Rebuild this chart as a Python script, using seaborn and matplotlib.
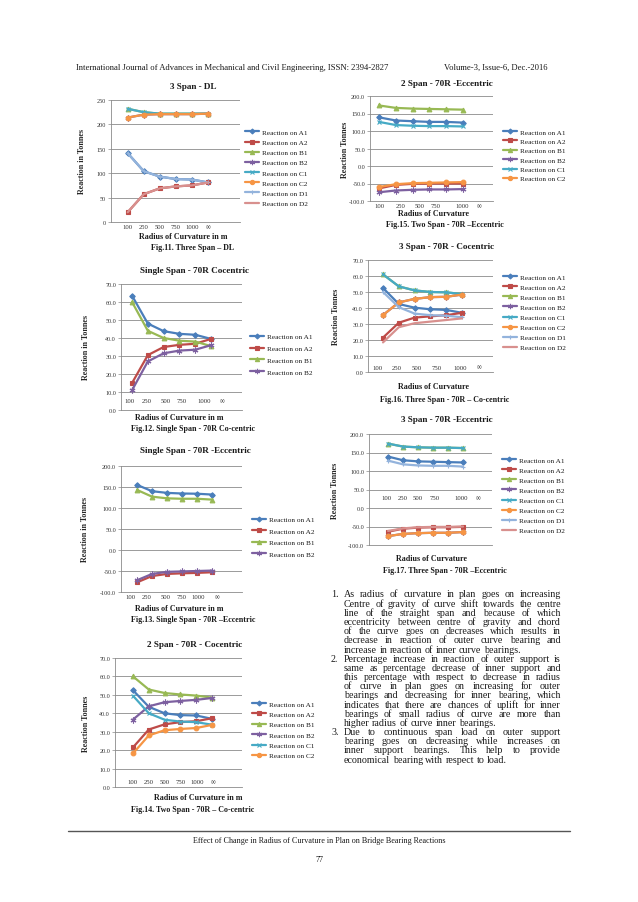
import matplotlib
matplotlib.use("Agg")
import matplotlib.pyplot as plt
import seaborn as sns
from matplotlib.lines import Line2D

W, H = 638, 903

# radius of curvature categories (last one is the straight span)
radius_labels = ["100", "250", "500", "750", "1000", "\u221e"]
radius_pos = [0, 1, 2, 3, 4, 5]

# --- values (tonnes) ---
fig11_dl = {
    "A1": [141, 104, 93, 88, 87, 81],
    "A2": [20, 57, 69, 73, 75, 81],
    "B1": [232, 225, 222, 222, 222, 222],
    "B2": [214, 220, 221, 221, 221, 222],
    "C1": [232, 225, 222, 222, 222, 222],
    "C2": [214, 220, 221, 221, 221, 222],
    "D1": [141, 104, 93, 88, 87, 81],
    "D2": [20, 57, 69, 73, 75, 81],
}
fig12_single_co = {
    "A1": [63.5, 48.0, 43.8, 42.3, 41.8, 39.5],
    "A2": [15.0, 30.5, 35.0, 36.2, 36.8, 39.5],
    "B1": [60.0, 44.0, 40.0, 38.5, 38.0, 35.5],
    "B2": [11.0, 27.0, 31.5, 33.0, 33.5, 36.0],
}
fig13_single_ecc = {
    "A1": [155, 140, 136, 134.5, 134, 132],
    "A2": [-77, -62, -57, -55.5, -54.5, -53],
    "B1": [143, 127, 123, 122, 122, 120],
    "B2": [-72, -57, -52, -51, -50, -49],
}
fig14_two_co = {
    "A1": [52.5, 43.5, 40.0, 39.0, 38.8, 37.0],
    "A2": [21.5, 31.2, 34.0, 35.2, 35.7, 37.3],
    "B1": [60.0, 52.9, 51.0, 50.2, 49.6, 48.5],
    "B2": [36.6, 43.8, 46.0, 46.7, 47.3, 48.3],
    "C1": [49.5, 40.0, 36.5, 35.5, 35.2, 33.8],
    "C2": [18.2, 28.0, 30.8, 31.5, 32.0, 33.7],
}
fig15_two_ecc = {
    "A1": [139, 130, 128, 126, 126, 124],
    "A2": [-64, -54, -51, -50, -50, -50],
    "B1": [173, 166, 164, 163, 162, 161],
    "B2": [-75, -70, -68, -67, -67, -66],
    "C1": [126, 117, 115, 114, 114, 113],
    "C2": [-60, -52, -49, -48, -47, -46],
}
fig16_three_co = {
    "A1": [52.5, 42.5, 40.2, 39.2, 38.8, 37.0],
    "A2": [21.5, 30.8, 34.0, 34.8, 35.5, 37.0],
    "B1": [61.0, 53.5, 51.0, 50.0, 49.8, 48.7],
    "B2": [35.6, 43.5, 45.7, 46.8, 47.0, 48.4],
    "C1": [61.0, 53.5, 51.0, 50.0, 49.8, 48.7],
    "C2": [35.6, 43.5, 45.7, 46.8, 47.0, 48.4],
    "D1": [50.0, 40.5, 36.5, 35.5, 35.2, 34.2],
    "D2": [18.5, 28.0, 30.5, 31.5, 32.5, 33.5],
}
fig17_three_ecc = {
    "A1": [139, 129, 126, 125, 124, 123],
    "A2": [-64, -56, -53, -52, -52, -51],
    "B1": [174, 166, 164, 163, 163, 162],
    "B2": [-76, -70, -68, -67, -67, -65],
    "C1": [174, 166, 164, 163, 163, 162],
    "C2": [-76, -70, -68, -67, -67, -65],
    "D1": [128, 118, 115, 114, 114, 112],
    "D2": [-62, -55, -52, -51, -51, -50],
}

paragraphs = [
    ["As radius of curvature in plan goes on increasing",
     "Centre of gravity of curve shift towards the centre",
     "line of the straight span and because of which",
     "eccentricity between centre of gravity and chord",
     "of the curve goes on decreases which results in",
     "decrease in reaction of outer curve bearing and",
     "increase in reaction of inner curve bearings."],
    ["Percentage increase in reaction of outer support is",
     "same as percentage decrease of inner support and",
     "this percentage with respect to decrease in radius",
     "of curve in plan goes on increasing for outer",
     "bearings and decreasing for inner bearing, which",
     "indicates that there are chances of uplift for inner",
     "bearings of small radius of curve are more than",
     "higher radius of curve inner bearings."],
    ["Due to continuous span load on outer support",
     "bearing goes on decreasing while increases on",
     "inner support bearings. This help to provide",
     "economical bearing with respect to load."],
]

# series styling (Excel 2010 defaults)
styles = {
    "A1": dict(color="#4A7EBB", marker="D", markersize=2.8),
    "A2": dict(color="#BE4B48", marker="s", markersize=3.4),
    "B1": dict(color="#98B954", marker="^", markersize=3.4),
    "B2": dict(color="#7D60A0", marker=(6, 2, 0), markersize=4.2),
    "C1": dict(color="#46AAC5", marker="x", markersize=3.4),
    "C2": dict(color="#F69544", marker="o", markersize=3.4),
    "D1": dict(color="#93B3DC", marker="+", markersize=3.2),
    "D2": dict(color="#D8908E", marker=None, markersize=0),
}

sns.set_theme(style="white")
plt.rcParams["font.family"] = ["Liberation Serif", "DejaVu Serif"]
plt.rcParams["text.color"] = "#1a1a1a"

fig = plt.figure(figsize=(W / 100, H / 100), dpi=100)


def fx(x):
    return x / W


def fy(y):
    return 1 - y / H


def ftext(x, y, s, size, bold=False, ha="center", **kw):
    return fig.text(fx(x), fy(y), s, fontsize=size, ha=ha, va="center",
                    fontweight="bold" if bold else "normal", **kw)


def chart(box, data, ylim, ystep, decimals, xlim, title, title_xy, ylabel, ylabel_x,
          xlabel, xlabel_xy, caption, caption_xy, legend_xy, row_h,
          tick_pos=None, inner_pos=None, inner_y=None):
    x0, y0, x1, y1 = box
    ax = fig.add_axes([fx(x0), fy(y1), (x1 - x0) / W, (y1 - y0) / H])
    for name, vals in data.items():
        st = styles[name]
        sns.lineplot(x=radius_pos, y=vals, ax=ax, color=st["color"],
                     marker=st["marker"], markersize=st["markersize"],
                     markeredgecolor=st["color"], markeredgewidth=0.8,
                     linewidth=1.6, label="Reaction on " + name)
    ax.set_xlim(*xlim)
    ax.set_ylim(*ylim)
    yt = []
    v = ylim[0]
    while v <= ylim[1] + 1e-9:
        yt.append(v)
        v += ystep
    ax.set_yticks(yt)
    ax.set_yticklabels([f"{t:.{decimals}f}" for t in yt])
    ax.yaxis.grid(True, color="#8a8a8a", linewidth=0.6)
    ax.xaxis.grid(False)
    for side in ["top", "right"]:
        ax.spines[side].set_visible(False)
    for side in ["left", "bottom"]:
        ax.spines[side].set_color("#8a8a8a")
        ax.spines[side].set_linewidth(0.6)
    ax.tick_params(axis="y", labelsize=4.4, length=2, width=0.5, pad=1.5,
                   colors="#8a8a8a", labelcolor="#333333", left=True)
    if tick_pos is not None:
        ax.set_xticks(tick_pos)
        ax.set_xticklabels(radius_labels)
        ax.tick_params(axis="x", labelsize=4.8, length=0, pad=1.5, labelcolor="#333333")
    else:
        ax.set_xticks([])
        for p, lab in zip(inner_pos, radius_labels):
            ax.text(p, inner_y, lab, fontsize=4.9, ha="center", va="center", color="#333333")
    ax.set_xlabel("")
    ax.set_ylabel(ylabel, fontsize=5.8, fontweight="bold")
    ax.yaxis.set_label_coords(fx(ylabel_x), fy((y0 + y1) / 2), transform=fig.transFigure)
    fs = 5.2
    fs_px = fs * 100 / 72
    ax.legend(loc="center left", bbox_to_anchor=(fx(legend_xy[0]), fy(legend_xy[1])),
              bbox_transform=fig.transFigure, frameon=False, fontsize=fs,
              handlelength=2.0, handletextpad=0.3, borderpad=0, borderaxespad=0,
              labelspacing=(row_h - 1.15 * fs_px) / fs_px, markerscale=0.9)
    ftext(*title_xy, title, 6.6, bold=True)
    ftext(*xlabel_xy, xlabel, 5.8, bold=True)
    ftext(*caption_xy, caption, 5.8, bold=True)
    return ax


# left column
chart((111, 101, 240, 223), fig11_dl, (0, 250), 50, 0, (-1.04, 6.99),
      "3 Span - DL", (193, 87), "Reaction in Tonnes", 86,
      "Radius of Curvature in m", (183, 237), "Fig.11. Three Span \u2013 DL", (193, 248),
      (245, 168.5), 12.4, tick_pos=radius_pos)
chart((121, 285, 242, 411), fig12_single_co, (0, 70), 10, 1, (-0.70, 6.96),
      "Single Span - 70R Cocentric", (195, 271), "Reaction in Tonnes", 90,
      "Radius of Curvature in m", (179, 418), "Fig.12. Single Span - 70R Co-centric", (193, 429),
      (250, 355), 14.0, inner_pos=[-0.19, 0.95, 2.15, 3.16, 4.56, 5.7], inner_y=5.2)
chart((121, 467, 242, 593), fig13_single_ecc, (-100, 200), 50, 1, (-1.07, 7.0),
      "Single Span - 70R -Eccentric", (195, 451), "Reaction in Tonnes", 89,
      "Radius of Curvature in m", (179, 609), "Fig.13. Single Span - 70R \u2013Eccentric", (193, 620),
      (252, 537.5), 13.7, tick_pos=[-0.47, 0.67, 1.93, 3.0, 4.07, 5.33])
chart((115, 659, 242, 788), fig14_two_co, (0, 70), 10, 1, (-1.14, 6.9),
      "2 Span - 70R - Cocentric", (195, 645), "Reaction Tonnes", 90,
      "Radius of Curvature in m", (198, 798), "Fig.14. Two Span - 70R \u2013 Co-centric", (193, 810),
      (252, 730.5), 12.6, inner_pos=[-0.06, 1.0, 2.0, 3.0, 4.05, 5.1], inner_y=3.0)

# right column
chart((370, 97, 493, 202), fig15_two_ecc, (-100, 200), 50, 1, (-0.54, 6.8),
      "2 Span - 70R -Eccentric", (447, 84), "Reaction Tonnes", 349,
      "Radius of Curvature", (433, 214), "Fig.15. Two Span - 70R \u2013Eccentric", (445, 225),
      (503, 156), 11.6, tick_pos=[0, 1.31, 2.44, 3.39, 4.94, 5.95])
chart((368, 261, 493, 373), fig16_three_co, (0, 70), 10, 1, (-0.95, 6.96),
      "3 Span - 70R - Cocentric", (447, 247), "Reaction Tonnes", 340,
      "Radius of Curvature", (433, 387), "Fig.16. Three Span - 70R \u2013 Co-centric", (445, 400),
      (503, 313), 12.3, inner_pos=[-0.38, 0.89, 2.15, 3.42, 4.87, 6.07], inner_y=3.0)
chart((369, 435, 492, 546), fig17_three_ecc, (-100, 200), 50, 1, (-1.27, 6.93),
      "3 Span - 70R -Eccentric", (447, 420), "Reaction Tonnes", 339,
      "Radius of Curvature", (432, 559), "Fig.17. Three Span - 70R \u2013Eccentric", (445, 571),
      (502, 496), 12.3, inner_pos=[-0.1, 0.95, 2.0, 3.1, 4.9, 6.0], inner_y=28)

# page header
ftext(76, 68, "International Journal of Advances in Mechanical and Civil Engineering, ISSN: 2394-2827",
      6.2, ha="left")
ftext(548, 68, "Volume-3, Issue-6, Dec.-2016", 6.2, ha="right")

# justified paragraphs
para_fs = 7.2
renderer = fig.canvas.get_renderer()
probe_a = fig.text(0, 0, "a a", fontsize=para_fs)
probe_b = fig.text(0, 0, "aa", fontsize=para_fs)
space_w = probe_a.get_window_extent(renderer).width - probe_b.get_window_extent(renderer).width
probe_a.remove()
probe_b.remove()

text_left, text_right = 344, 561
y = 595
line_step = 9.17
for num, lines in zip(["1.", "2.", "3."], paragraphs):
    ftext(331, y, num, para_fs, ha="left")
    for i, line in enumerate(lines):
        words = line.split()
        arts = [fig.text(0, fy(y), w, fontsize=para_fs, va="center") for w in words]
        widths = [a.get_window_extent(renderer).width for a in arts]
        if i < len(lines) - 1 and len(words) > 1:
            gap = (text_right - text_left - sum(widths)) / (len(words) - 1)
        else:
            gap = space_w
        x = text_left
        for a, wd in zip(arts, widths):
            a.set_x(fx(x))
            x += wd + gap
        y += line_step

# footer
fig.add_artist(Line2D([fx(68), fx(570)], [fy(832), fy(832)], color="#555555", linewidth=1.0))
ftext(319, 841, "Effect of Change in Radius of Curvature in Plan on Bridge Bearing Reactions", 5.9)
ftext(319, 860, "77", 5.9)

fig.savefig("out.png", dpi=100, facecolor="white")
